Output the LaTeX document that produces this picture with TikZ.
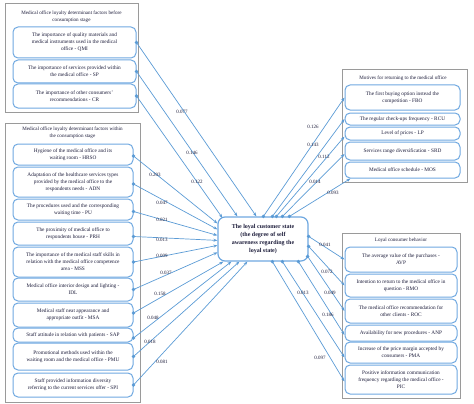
\documentclass[tikz,border=0pt]{standalone}
\usepackage{fontspec}
\setmainfont{Liberation Serif}
\usetikzlibrary{arrows.meta,calc}
\definecolor{lnblue}{HTML}{5B9BD5}
\definecolor{bxblue}{HTML}{6FA8E0}
\definecolor{gframe}{HTML}{9A9A9A}
\definecolor{txt}{HTML}{1C1C3A}
\tikzset{
 ibox/.style={draw=bxblue, line width=1pt, rounded corners=5pt, align=center,
   font=\fontsize{5.3}{7}\selectfont, text=txt, inner sep=1pt},
 cbox/.style={draw=bxblue, line width=1.2pt, rounded corners=7pt, align=center,
   font=\fontsize{6}{8}\selectfont\bfseries, text=txt, inner sep=1pt},
 gbox/.style={draw=gframe, line width=1pt, inner sep=0pt},
 gtitle/.style={align=center, font=\fontsize{5.1}{7}\selectfont, text=txt, inner sep=0pt},
 conn/.style={draw=lnblue, line width=0.7pt, -{Stealth[length=4pt,width=3pt]}},
 dot/.style={circle, fill=lnblue, inner sep=0pt, minimum size=3.8pt},
 lbl/.style={font=\fontsize{5}{6}\selectfont, text=txt, inner sep=0pt},
}
\newcommand\ibx[6]{\node[ibox, minimum width=#4, minimum height=#5] (#1) at (#2,#3) {#6};}
\begin{document}
\begin{tikzpicture}[x=1pt,y=-1pt]
\useasboundingbox (0,0) rectangle (474,404);
% group frames
\node[gbox, minimum width=133, minimum height=108] (g1) at (71.5,58) {};
\node[gbox, minimum width=135, minimum height=279] (g2) at (72.5,262.5) {};
\node[gbox, minimum width=125, minimum height=112] (g3) at (404.5,126) {};
\node[gbox, minimum width=118, minimum height=165] (g4) at (401,315.5) {};
\node[gtitle] (t1) at (71.5,17) {Medical office loyalty determinant factors before\\consumption stage};
\node[gtitle] (t2) at (72.5,133) {Medical office loyalty determinant factors within\\the consumption stage};
\node[gtitle] (t3) at (403,78) {Motives for returning to the medical office};
\node[gtitle] (t4) at (401,240) {Loyal consumer behavior};
% group 1
\ibx{qmi}{74.5}{42.5}{123}{31}{The importance of quality materials and\\medical instruments used in the medical\\office - QMI}
\ibx{sp}{74.5}{71.5}{123}{23}{The importance of services provided within\\the medical office - SP}
\ibx{cr}{74.5}{96}{123}{24}{The importance of other consumers'\\recommendations - CR}
% group 2
\ibx{hrso}{73}{154.5}{120}{21}{Hygiene of the medical office and its\\waiting room - HRSO}
\ibx{adn}{73}{182}{120}{30}{Adaptation of the healthcare services types\\provided by the medical office to the\\respondents needs - ADN}
\ibx{pu}{73}{209.5}{120}{21}{The procedures used and the corresponding\\waiting time - PU}
\ibx{prh}{73}{233.5}{120}{23}{The proximity of medical office to\\respondents house - PRH}
\ibx{mss}{73}{262}{120}{30}{The importance of the medical staff skills in\\relation with the medical office competence\\area - MSS}
\ibx{idl}{73}{289.5}{120}{23}{Medical office interior design and lighting -\\IDL}
\ibx{msa}{73}{315}{120}{24}{Medical staff neat appearance and\\appropriate outfit - MSA}
\ibx{sap}{73}{335}{120}{14}{Staff attitude in relation with patients - SAP}
\ibx{pmu}{73}{356.5}{120}{27}{Promotional methods used within the\\waiting room and the medical office - PMU}
\ibx{spi}{73}{385}{120}{24}{Staff provided information diversity\\referring to the current services offer - SPI}
% centre
\node[cbox, minimum width=90, minimum height=44] (ctr) at (263,239) {The loyal customer state\\(the degree of self\\awareness regarding the\\loyal state)};
% group 3
\ibx{fbo}{402.5}{97.5}{115}{25}{The first buying option instead the\\competition - FBO}
\ibx{rcu}{402.5}{119}{115}{12}{The regular check-ups frequency - RCU}
\ibx{lp}{402.5}{133.5}{115}{13}{Level of prices - LP}
\ibx{srd}{402.5}{151}{115}{18}{Services range diversification - SRD}
\ibx{mos}{402.5}{170}{115}{16}{Medical office schedule - MOS}
% group 4
\ibx{avp}{401}{259.5}{112}{25}{The average value of the purchases -\\AVP}
\ibx{rmo}{401}{285.5}{112}{23}{Intention to return to the medical office in\\question - RMO}
\ibx{roc}{401}{311}{112}{24}{The medical office recommendation for\\other clients - ROC}
\ibx{anp}{401}{333}{112}{16}{Availability for new procedures - ANP}
\ibx{pma}{401}{352.5}{112}{21}{Increase of the price margin accepted by\\consumers - PMA}
\ibx{pic}{401}{379.5}{112}{29}{Positive information communication\\frequency regarding the medical office -\\PIC}
% connectors: left inputs
\draw[conn] (qmi.east) node[dot] (d1) {} -- ($(ctr.north west)+(39,0)$);
\draw[conn] (sp.east) node[dot] (d2) {} -- ($(ctr.north west)+(20,0)$);
\draw[conn] (cr.east) node[dot] (d3) {} -- ($(ctr.north west)+(5,1.5)$);
\draw[conn] ($(hrso.east)+(0,1.5)$) node[dot] (d4) {} -- ($(ctr.north west)+(0,7)$);
\draw[conn] ($(adn.east)+(0,2)$) node[dot] (d5) {} -- ($(ctr.north west)+(0,13)$);
\draw[conn] ($(pu.east)+(0,2)$) node[dot] (d6) {} -- ($(ctr.north west)+(0,19)$);
\draw[conn] ($(prh.east)+(0,3)$) node[dot] (d7) {} -- ($(ctr.north west)+(0,24)$);
\draw[conn] (mss.east) node[dot] (d8) {} -- ($(ctr.north west)+(0,29)$);
\draw[conn] (idl.east) node[dot] (d9) {} -- ($(ctr.north west)+(0,36)$);
\draw[conn] ($(msa.east)+(0,-2)$) node[dot] (d10) {} -- ($(ctr.south west)+(6,0)$);
\draw[conn] ($(sap.east)+(0,3)$) node[dot] (d11) {} -- ($(ctr.south west)+(14,0)$);
\draw[conn] (pmu.east) node[dot] (d12) {} -- ($(ctr.south west)+(22,0)$);
\draw[conn] (spi.east) node[dot] (d13) {} -- ($(ctr.south west)+(30,0)$);
% connectors: motives
\draw[conn] ($(ctr.north west)+(46,0)$) node[dot] (e1) {} -- (fbo.west);
\draw[conn] ($(ctr.north west)+(55,0)$) node[dot] (e2) {} -- (rcu.west);
\draw[conn] ($(ctr.north west)+(59,0)$) node[dot] (e3) {} -- ($(lp.west)+(0,3)$);
\draw[conn] ($(ctr.north west)+(65,0)$) node[dot] (e4) {} -- ($(srd.west)+(0,3)$);
\draw[conn] ($(ctr.north west)+(72,0)$) node[dot] (e5) {} -- ($(mos.south west)+(6,0)$);
% connectors: behaviour
\draw[conn] ($(ctr.north east)+(0,20)$) node[dot] (f1) {} -- (avp.west);
\draw[conn] ($(ctr.north east)+(0,30)$) node[dot] (f2) {} -- (rmo.west);
\draw[conn] ($(ctr.north east)+(-1,40)$) node[dot] (f3) {} -- (roc.west);
\draw[conn] ($(ctr.south west)+(81,0)$) node[dot] (f4) {} -- ($(anp.west)+(0,2)$);
\draw[conn] ($(ctr.south west)+(65,0)$) node[dot] (f5) {} -- ($(pma.west)+(0,5)$);
\draw[conn] ($(ctr.south west)+(55,0)$) node[dot] (f6) {} -- ($(pic.west)+(0,2)$);
% labels
\node[lbl] (l1) at (182,112) {0.077};
\node[lbl] (l2) at (192,153) {0.146};
\node[lbl] (l3) at (197,182) {0.122};
\node[lbl] (l4) at (155,175) {0.203};
\node[lbl] (l5) at (162,203) {0.047};
\node[lbl] (l6) at (162,220) {0.021};
\node[lbl] (l7) at (162,240) {0.013};
\node[lbl] (l8) at (162,256) {0.009};
\node[lbl] (l9) at (166,273) {0.037};
\node[lbl] (l10) at (160,294) {0.158};
\node[lbl] (l11) at (153,318) {0.048};
\node[lbl] (l12) at (150,342) {0.018};
\node[lbl] (l13) at (162,362) {0.081};
\node[lbl] (m1) at (313,127) {0.126};
\node[lbl] (m2) at (313,145) {0.143};
\node[lbl] (m3) at (324,157) {0.112};
\node[lbl] (m4) at (315,182) {0.014};
\node[lbl] (m5) at (333,193) {0.093};
\node[lbl] (n1) at (325,245) {0.041};
\node[lbl] (n2) at (327,272) {0.072};
\node[lbl] (n3) at (330,293) {0.049};
\node[lbl] (n4) at (328,315) {0.186};
\node[lbl] (n5) at (303,293) {0.013};
\node[lbl] (n6) at (320,358) {0.097};
\end{tikzpicture}
\end{document}
